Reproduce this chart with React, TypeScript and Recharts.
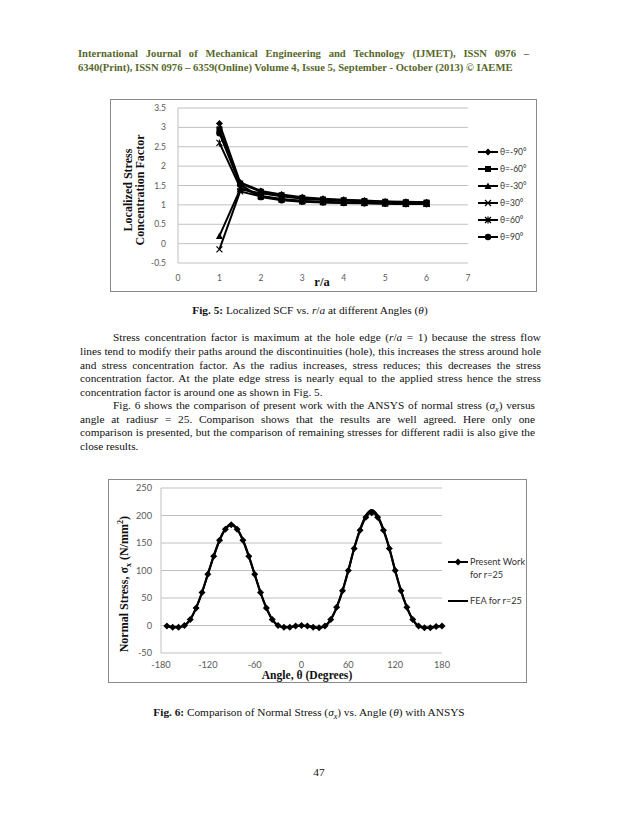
import React from 'react'
import { LineChart, Line, XAxis, YAxis, CartesianGrid } from 'recharts'

// Fig. 5 data: localized SCF vs r/a
const rOverA = [1, 1.5, 2, 2.5, 3, 3.5, 4, 4.5, 5, 5.5, 6]
const scfMinus90 = [3.1, 1.58, 1.36, 1.27, 1.2, 1.16, 1.13, 1.11, 1.09, 1.08, 1.07]
const scfMinus60 = [2.95, 1.55, 1.34, 1.25, 1.18, 1.14, 1.12, 1.1, 1.08, 1.07, 1.06]
const scfMinus30 = [0.2, 1.4, 1.3, 1.22, 1.16, 1.13, 1.11, 1.09, 1.07, 1.06, 1.05]
const scfPlus30 = [-0.15, 1.35, 1.22, 1.14, 1.1, 1.07, 1.06, 1.05, 1.04, 1.03, 1.03]
const scfPlus60 = [2.6, 1.45, 1.23, 1.15, 1.1, 1.08, 1.06, 1.05, 1.04, 1.03, 1.03]
const scfPlus90 = [2.85, 1.52, 1.2, 1.12, 1.08, 1.06, 1.05, 1.04, 1.03, 1.02, 1.02]
const rTicks = [0, 1, 2, 3, 4, 5, 6, 7]
const scfTicks = [-0.5, 0, 0.5, 1, 1.5, 2, 2.5, 3, 3.5]

// Fig. 6 data: normal stress vs angle
const angles = [
  -172.5, -165, -157.5, -150, -142.5, -135, -127.5, -120, -112.5, -105, -97.5, -90,
  -82.5, -75, -67.5, -60, -52.5, -45, -37.5, -30, -22.5, -15, -7.5, 0,
  7.5, 15, 22.5, 30, 37.5, 45, 52.5, 60, 67.5, 75, 82.5, 90,
  97.5, 105, 112.5, 120, 127.5, 135, 142.5, 150, 157.5, 165, 172.5, 180,
]
const presentWork = [
  -1, -3, -3, 0, 11, 32, 60, 93, 126, 155, 175, 183,
  175, 155, 126, 93, 60, 32, 11, 0, -3, -3, -1, 0,
  -1, -3, -4, -1, 11, 33, 63, 100, 140, 173, 197, 205,
  197, 173, 140, 100, 63, 33, 11, -1, -4, -4, -2, -1,
]
const feaResult = [
  -1, -3, -3, 0, 11, 32, 60, 93, 126, 155, 176, 184,
  176, 155, 126, 93, 60, 32, 11, 0, -3, -3, -1, 0,
  -1, -3, -4, -1, 11, 33, 63, 100, 141, 175, 200, 210,
  200, 175, 141, 100, 63, 33, 11, -1, -4, -4, -2, -1,
]
const angleTicks = [-180, -120, -60, 0, 60, 120, 180]
const stressTicks = [-50, 0, 50, 100, 150, 200, 250]

const scfSeries = [
  { key: 'm90', name: 'θ=-90°', shape: 'diamond', values: scfMinus90 },
  { key: 'm60', name: 'θ=-60°', shape: 'square', values: scfMinus60 },
  { key: 'm30', name: 'θ=-30°', shape: 'triangle', values: scfMinus30 },
  { key: 'p30', name: 'θ=30°', shape: 'cross', values: scfPlus30 },
  { key: 'p60', name: 'θ=60°', shape: 'star', values: scfPlus60 },
  { key: 'p90', name: 'θ=90°', shape: 'circle', values: scfPlus90 },
]

const scfData = rOverA.map((r, i) => {
  const row: Record<string, number> = { r }
  scfSeries.forEach(s => { row[s.key] = s.values[i] })
  return row
})

const stressData = angles.map((a, i) => ({ angle: a, present: presentWork[i], fea: feaResult[i] }))

const GRID = '#c0c0c0'
const TICK = '#595959'
const OLIVE = '#56682a'

function Marker({ shape, cx, cy }: { shape: string; cx: number; cy: number }) {
  if (cx == null || cy == null) return null
  switch (shape) {
    case 'diamond':
      return <polygon points={`${cx},${cy - 3.5} ${cx + 3.5},${cy} ${cx},${cy + 3.5} ${cx - 3.5},${cy}`} fill="#000" />
    case 'square':
      return <rect x={cx - 3} y={cy - 3} width={6} height={6} fill="#000" />
    case 'triangle':
      return <polygon points={`${cx},${cy - 3.5} ${cx + 3.5},${cy + 3} ${cx - 3.5},${cy + 3}`} fill="#000" />
    case 'cross':
      return <path d={`M${cx - 3},${cy - 3}L${cx + 3},${cy + 3}M${cx + 3},${cy - 3}L${cx - 3},${cy + 3}`} stroke="#000" strokeWidth={1.2} />
    case 'star':
      return <path d={`M${cx - 3},${cy - 3}L${cx + 3},${cy + 3}M${cx + 3},${cy - 3}L${cx - 3},${cy + 3}M${cx},${cy - 3.5}L${cx},${cy + 3.5}`} stroke="#000" strokeWidth={1.2} />
    default:
      return <circle cx={cx} cy={cy} r={3.2} fill="#000" />
  }
}

function LegendGlyph({ shape, width = 20 }: { shape?: string; width?: number }) {
  return (
    <svg width={width} height={10} style={{ display: 'block' }}>
      <line x1={0} y1={5} x2={width} y2={5} stroke="#000" strokeWidth={2} />
      {shape && <Marker shape={shape} cx={width / 2} cy={5} />}
    </svg>
  )
}

function TextRow({ top, left, width, justify = true, children, style }: {
  top: number; left: number; width: number; justify?: boolean; children: React.ReactNode; style?: React.CSSProperties
}) {
  return (
    <div
      style={{
        position: 'absolute', top, left, width, height: 14, lineHeight: '14px',
        whiteSpace: 'nowrap', textAlign: justify ? 'justify' : 'left',
        textAlignLast: justify ? 'justify' : 'left', fontSize: 11.3, ...style,
      }}
    >
      {children}
    </div>
  )
}

const abs = (left: number, top: number, extra?: React.CSSProperties): React.CSSProperties => ({ position: 'absolute', left, top, ...extra })

export default function App() {
  return (
    <div
      style={{
        position: 'absolute', left: 0, top: 0, width: 638, height: 826, overflow: 'hidden',
        background: '#fff', color: '#111', fontFamily: '"Liberation Serif", "Times New Roman", serif',
      }}
    >
      {/* header */}
      <TextRow top={47} left={78} width={451} style={{ fontWeight: 'bold', color: OLIVE, fontSize: 10.6 }}>
        International Journal of Mechanical Engineering and Technology (IJMET), ISSN 0976 –
      </TextRow>
      <TextRow top={61} left={78} width={451} justify={false} style={{ fontWeight: 'bold', color: OLIVE, fontSize: 10.6 }}>
        6340(Print), ISSN 0976 – 6359(Online) Volume 4, Issue 5, September - October (2013) © IAEME
      </TextRow>

      {/* Fig. 5 */}
      <div style={abs(110, 99, { width: 427, height: 193, border: '1px solid #8a8a8a', boxSizing: 'border-box' })} />
      <div style={abs(111, 100)}>
        <LineChart width={425} height={191} data={scfData} margin={{ top: 8, right: 68, bottom: 0, left: 0 }}>
          <CartesianGrid horizontal vertical={false} stroke={GRID} />
          <XAxis
            type="number" dataKey="r" domain={[0, 7]} ticks={rTicks} interval={0}
            axisLine={false} tickLine={false} tickSize={0} tickMargin={12} height={28}
            tick={{ fontSize: 8.5, fill: TICK, fontFamily: 'Lato' }}
          />
          <YAxis
            type="number" domain={[-0.5, 3.5]} ticks={scfTicks} interval={0} width={67}
            axisLine={{ stroke: GRID }} tickLine={false} tickSize={0} tickMargin={12}
            tick={{ fontSize: 8.5, fill: TICK, fontFamily: 'Lato' }}
          />
          {scfSeries.map(s => (
            <Line
              key={s.key} dataKey={s.key} name={s.name} type="linear" stroke="#000" strokeWidth={2}
              isAnimationActive={false}
              dot={(p: any) => <Marker key={`${s.key}-${p.index}`} shape={s.shape} cx={p.cx} cy={p.cy} />}
              activeDot={false}
            />
          ))}
        </LineChart>
      </div>
      <div
        style={abs(74, 178, {
          width: 120, textAlign: 'center', transform: 'rotate(-90deg)', fontWeight: 'bold',
          fontSize: 12, lineHeight: '12px',
        })}
      >
        Localized Stress<br />Concentration Factor
      </div>
      <div style={abs(302, 275, { width: 40, textAlign: 'center', fontWeight: 'bold', fontSize: 12.5, lineHeight: '14px' })}>
        r/a
      </div>
      <div style={abs(478, 145, { fontFamily: 'Lato', fontSize: 8.5, color: '#333' })}>
        {scfSeries.map((s, i) => (
          <div key={s.key} style={{ position: 'absolute', top: i * 17.1, left: 0, display: 'flex', alignItems: 'center', height: 13, whiteSpace: 'nowrap' }}>
            <LegendGlyph shape={s.shape} width={20} />
            <span style={{ marginLeft: 2 }}>{s.name}</span>
          </div>
        ))}
      </div>

      <TextRow top={303} left={0} width={620} justify={false} style={{ textAlign: 'center', textAlignLast: 'center' }}>
        <b>Fig. 5:</b> Localized SCF vs. <i>r</i>/<i>a</i> at different Angles (<i>θ</i>)
      </TextRow>

      {/* body text */}
      <TextRow top={330} left={113} width={428}>
        Stress concentration factor is maximum at the hole edge (<i>r</i>/<i>a</i> = 1) because the stress flow
      </TextRow>
      <TextRow top={344} left={80} width={461}>
        lines tend to modify their paths around the discontinuities (hole), this increases the stress around hole
      </TextRow>
      <TextRow top={357.7} left={80} width={461}>
        and stress concentration factor. As the radius increases, stress reduces; this decreases the stress
      </TextRow>
      <TextRow top={371} left={80} width={461}>
        concentration factor. At the plate edge stress is nearly equal to the applied stress hence the stress
      </TextRow>
      <TextRow top={384.5} left={80} width={461} justify={false}>
        concentration factor is around one as shown in Fig. 5.
      </TextRow>
      <TextRow top={398} left={113} width={422}>
        Fig. 6 shows the comparison of present work with the ANSYS of normal stress (<i>σ<sub style={{ fontSize: 8 }}>x</sub></i>) versus
      </TextRow>
      <TextRow top={411.7} left={80} width={455}>
        angle at radius<i>r</i> = 25. Comparison shows that the results are well agreed. Here only one
      </TextRow>
      <TextRow top={425} left={80} width={455}>
        comparison is presented, but the comparison of remaining stresses for different radii is also give the
      </TextRow>
      <TextRow top={439} left={80} width={455} justify={false}>
        close results.
      </TextRow>

      {/* Fig. 6 */}
      <div style={abs(108, 479, { width: 419, height: 204, border: '1px solid #8a8a8a', boxSizing: 'border-box' })} />
      <div style={abs(109, 480)}>
        <LineChart width={417} height={202} data={stressData} margin={{ top: 8, right: 84, bottom: 0, left: 0 }}>
          <CartesianGrid horizontal vertical={false} stroke={GRID} />
          <XAxis
            type="number" dataKey="angle" domain={[-180, 180]} ticks={angleTicks} interval={0}
            axisLine={false} tickLine={false} tickSize={0} tickMargin={8} height={29}
            tick={{ fontSize: 9.2, fill: TICK, fontFamily: 'Lato' }}
          />
          <YAxis
            type="number" domain={[-50, 250]} ticks={stressTicks} interval={0} width={52}
            axisLine={{ stroke: GRID }} tickLine={false} tickSize={0} tickMargin={9}
            tick={{ fontSize: 9.2, fill: TICK, fontFamily: 'Lato' }}
          />
          <Line
            dataKey="fea" name="FEA for r=25" type="monotone" stroke="#000" strokeWidth={2}
            dot={false} activeDot={false} isAnimationActive={false}
          />
          <Line
            dataKey="present" name="Present Work for r=25" type="monotone" stroke="#000" strokeWidth={2.2}
            isAnimationActive={false} activeDot={false}
            dot={(p: any) => <Marker key={`pw-${p.index}`} shape="diamond" cx={p.cx} cy={p.cy} />}
          />
        </LineChart>
      </div>
      <div
        style={abs(55, 573, {
          width: 140, textAlign: 'center', transform: 'rotate(-90deg)', fontWeight: 'bold',
          fontSize: 12, lineHeight: '14px', whiteSpace: 'nowrap',
        })}
      >
        Normal Stress, σ<sub style={{ fontSize: 8 }}>x</sub> (N/mm<sup style={{ fontSize: 8 }}>2</sup>)
      </div>
      <div style={abs(237, 670, { width: 140, textAlign: 'center', fontWeight: 'bold', fontSize: 11.6, lineHeight: '12px' })}>
        Angle, θ (Degrees)
      </div>
      <div style={abs(448, 555, { fontFamily: 'Lato', fontSize: 9.2, color: '#333', lineHeight: '13px' })}>
        <div style={{ display: 'flex', alignItems: 'flex-start' }}>
          <div style={{ paddingTop: 2 }}><LegendGlyph shape="diamond" width={20} /></div>
          <span style={{ marginLeft: 2 }}>Present Work<br />for r=25</span>
        </div>
        <div style={{ display: 'flex', alignItems: 'center', marginTop: 13 }}>
          <LegendGlyph width={20} />
          <span style={{ marginLeft: 2 }}>FEA for r=25</span>
        </div>
      </div>

      <TextRow top={705} left={0} width={618} justify={false} style={{ textAlign: 'center', textAlignLast: 'center' }}>
        <b>Fig. 6:</b> Comparison of Normal Stress (<i>σ<sub style={{ fontSize: 8 }}>x</sub></i>) vs. Angle (<i>θ</i>) with ANSYS
      </TextRow>

      <TextRow top={765} left={0} width={638} justify={false} style={{ textAlign: 'center', textAlignLast: 'center' }}>
        47
      </TextRow>
    </div>
  )
}
